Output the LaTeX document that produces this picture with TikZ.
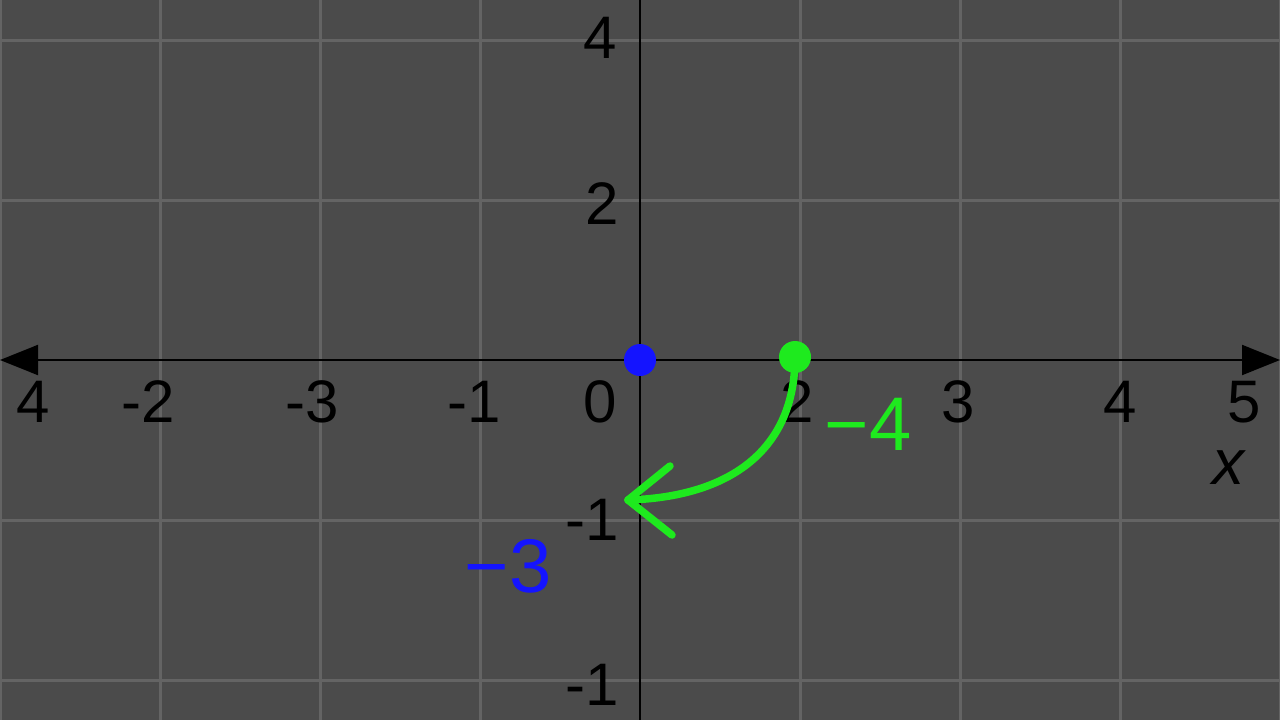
\documentclass[tikz,border=0pt]{standalone}
\usepackage{fontspec}
\setmainfont{Liberation Sans}
\usetikzlibrary{arrows.meta}
\definecolor{bg}{HTML}{4B4B4B}
\definecolor{gridc}{HTML}{646464}
\definecolor{gdot}{HTML}{1EEA1E}
\definecolor{bdot}{HTML}{1414FF}
\tikzset{
  gridline/.style={draw=gridc,line width=3pt},
  axisline/.style={draw=black,line width=2pt},
  lab/.style={font=\fontsize{60}{60}\selectfont,text=black,inner sep=0pt},
  biglab/.style={font=\fontsize{76}{76}\selectfont,inner sep=0pt},
  dot/.style={circle,inner sep=0pt,minimum size=32pt},
  greenline/.style={draw=gdot,line width=7.5pt,line cap=round}
}
\begin{document}
\begin{tikzpicture}[x=1pt,y=-1pt]
\useasboundingbox (0,0) rectangle (1280,720);
\fill[bg] (0,0) rectangle (1280,720);
% grid
\foreach \gx in {0,160,320,480,800,960,1120,1280}
  \draw[gridline] (\gx,0) -- (\gx,720);
\foreach \gy in {40,200,520,680}
  \draw[gridline] (0,\gy) -- (1280,\gy);
% axes
\coordinate (xl) at (0,360);
\coordinate (xr) at (1280,360);
\coordinate (yt) at (640,0);
\coordinate (yb) at (640,720);
\draw[axisline] (yt) -- (yb);
\draw[axisline,{Triangle[length=38pt,width=30pt]}-{Triangle[length=38pt,width=30pt]}] (xl) -- (xr);
% x labels
\node[lab] (l1) at (33,402) {4};
\node[lab] (l2) at (148,402) {-2};
\node[lab] (l3) at (312,402) {-3};
\node[lab] (l4) at (474,402) {-1};
\node[lab] (l5) at (600,402) {0};
\node[lab] (l6) at (797,402) {2};
\node[lab] (l7) at (958,402) {3};
\node[lab] (l8) at (1120,402) {4};
\node[lab] (l9) at (1244,402) {5};
\node[lab,font=\fontsize{64}{64}\selectfont\itshape] (lx) at (1228,468) {x};
% y labels
\node[lab] (m1) at (600,38) {4};
\node[lab] (m2) at (602,204) {2};
\node[lab] (m3) at (592,520) {-1};
\node[lab] (m4) at (592,685) {-1};
% dots
\node[dot,fill=bdot] (b) at (640,360) {};
\node[dot,fill=gdot] (g) at (795,357) {};
% arrow
\coordinate (tip) at (628,500);
\draw[greenline] (g.center) .. controls (795,450) and (730,497) .. (tip);
\draw[greenline] (tip) -- ++(42,-34);
\draw[greenline] (tip) -- ++(44,35);
% colored labels
\node[biglab,text=gdot] (n4) at (868,424) {−4};
\node[biglab,text=bdot] (n3) at (508,566) {−3};
\end{tikzpicture}
\end{document}
